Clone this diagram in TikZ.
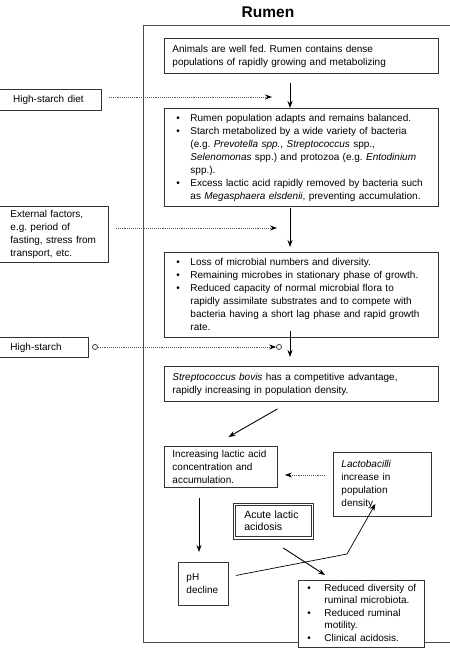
\documentclass[tikz,border=0pt]{standalone}
\usepackage{fontspec}
\setmainfont{Liberation Sans}
\usetikzlibrary{arrows.meta,calc}
\tikzstyle{box} = [draw=black!80, line width=0.9pt, fill=white, anchor=north west, inner xsep=8pt, inner ysep=0pt, align=left, font=\fontsize{10}{13}\selectfont]
\tikzstyle{arrow} = [line width=0.9pt, -{Stealth[length=7pt,width=5pt,color=black]}]
\tikzstyle{dotarrow} = [arrow, draw=black!65, densely dotted]
\tikzstyle{ring} = [circle, draw=black!80, fill=white, line width=0.7pt, inner sep=0pt, minimum size=5pt]
\newcommand{\bl}{\textbullet}
\frenchspacing

\begin{document}
\begin{tikzpicture}[x=1pt, y=-1pt]
\useasboundingbox (0,0) rectangle (450,654);
% Rumen frame
\node[font=\bfseries\fontsize{15.5}{18}\selectfont] (title) at (268,12) {Rumen};
\draw[draw=black!70, line width=1pt] (460,25) -- (143,25) -- (143,642) -- (460,642);

% Outside the rumen
\node[box, align=center, text width=90pt, minimum height=21pt] (diet) at (-5,89) {High-starch diet};
\node[box, inner xsep=11pt, text width=87pt, minimum height=56pt] (ext) at (-1,206) {External factors,\\e.g. period of\\fasting, stress from\\transport, etc.};
\node[box, inner xsep=15pt, text width=63pt, minimum height=20pt] (hs) at (-5,337) {High-starch};

% Main column
\node[box, text width=258pt, minimum height=35pt] (feed) at (164,38) {Animals are well fed. Rumen contains dense\\populations of rapidly growing and metabolizing};
\node[box, text width=258pt, minimum height=98pt] (adapt) at (164,108) {\begin{tabular}{@{\hspace{4pt}}p{14pt}@{}l@{}}
\bl & Rumen population adapts and remains balanced.\\
\bl & Starch metabolized by a wide variety of bacteria\\
 & (e.g. \textit{Prevotella spp.}, \textit{Streptococcus} spp.,\\
 & \textit{Selenomonas} spp.) and protozoa (e.g. \textit{Entodinium}\\
 & spp.).\\
\bl & Excess lactic acid rapidly removed by bacteria such\\
 & as \textit{Megasphaera elsdenii}, preventing accumulation.
\end{tabular}};
\node[box, text width=258pt, minimum height=85pt] (loss) at (164,252) {\begin{tabular}{@{\hspace{4pt}}p{14pt}@{}l@{}}
\bl & Loss of microbial numbers and diversity.\\
\bl & Remaining microbes in stationary phase of growth.\\
\bl & Reduced capacity of normal microbial flora to\\
 & rapidly assimilate substrates and to compete with\\
 & bacteria having a short lag phase and rapid growth\\
 & rate.
\end{tabular}};
\node[box, text width=258pt, minimum height=35pt] (bovis) at (164,366) {\textit{Streptococcus bovis} has a competitive advantage,\\rapidly increasing in population density.};

% Lower part
\node[box, text width=97pt, minimum height=41pt] (lactic) at (164,446) {Increasing lactic acid\\concentration and\\accumulation.};
\node[box, text width=82pt, minimum height=64pt] (lacto) at (333,452) {\textit{Lactobacilli}\\increase in\\population\\density.};
\node[box, double, double distance=1.5pt, line width=1pt, inner xsep=10pt, text width=58pt, minimum height=33.5pt, font=\fontsize{10.5}{12}\selectfont] (acute) at (233.75,503.75) {Acute lactic\\acidosis};
\node[box, text width=34pt, minimum height=43pt] (ph) at (178,562) {pH\\decline};
\node[box, inner xsep=5pt, text width=116pt, minimum height=67pt, font=\fontsize{10}{12.5}\selectfont] (fin) at (298,580) {\begin{tabular}{@{\hspace{4pt}}p{17pt}@{}l@{}}
\bl & Reduced diversity of\\
 & ruminal microbiota.\\
\bl & Reduced ruminal\\
 & motility.\\
\bl & Clinical acidosis.
\end{tabular}};

% Connectors
\coordinate (axis) at (290,0);
\coordinate (phaxis) at (199,0);
\coordinate (dietend) at (272,97);
\coordinate (extend) at (277,228);
\coordinate (row) at (0,475);
\coordinate (bend) at (347,554);
\node[ring] (hsa) at (95,347) {};
\node[ring] (hsb) at (279,347) {};

\draw[arrow, shorten <=9pt] (feed.south -| axis) -- (adapt.north -| axis);
\draw[dotarrow, shorten <=7pt] (diet.east |- dietend) -- (dietend);
\draw[dotarrow, shorten <=7pt] (ext.east |- extend) -- (extend);
\draw[arrow, shorten <=1pt, shorten >=5pt] (adapt.south -| axis) -- (loss.north -| axis);
\draw[dotarrow] (hsa) -- (hsb);
\draw[arrow, shorten <=-7pt, shorten >=9pt] (loss.south -| axis) -- (bovis.north -| axis);
\draw[arrow] ($(bovis.south)+(-24,7)$) -- ($(lactic.north)+(7.5,-9)$);
\draw[dotarrow, shorten <=8pt, shorten >=7pt] (lacto.west |- row) -- (lactic.east |- row);
\draw[arrow, shorten <=10pt, shorten >=10pt] (lactic.south -| phaxis) -- (ph.north -| phaxis);
\draw[arrow, line width=0.7pt] ($(ph.east)+(7,-8.5)$) -- (bend) -- ($(lacto.south)+(-7,-13)$);
\draw[arrow] ($(acute.south)+(10,9.75)$) -- ($(fin.north west)+(27,-5)$);
\end{tikzpicture}
\end{document}
